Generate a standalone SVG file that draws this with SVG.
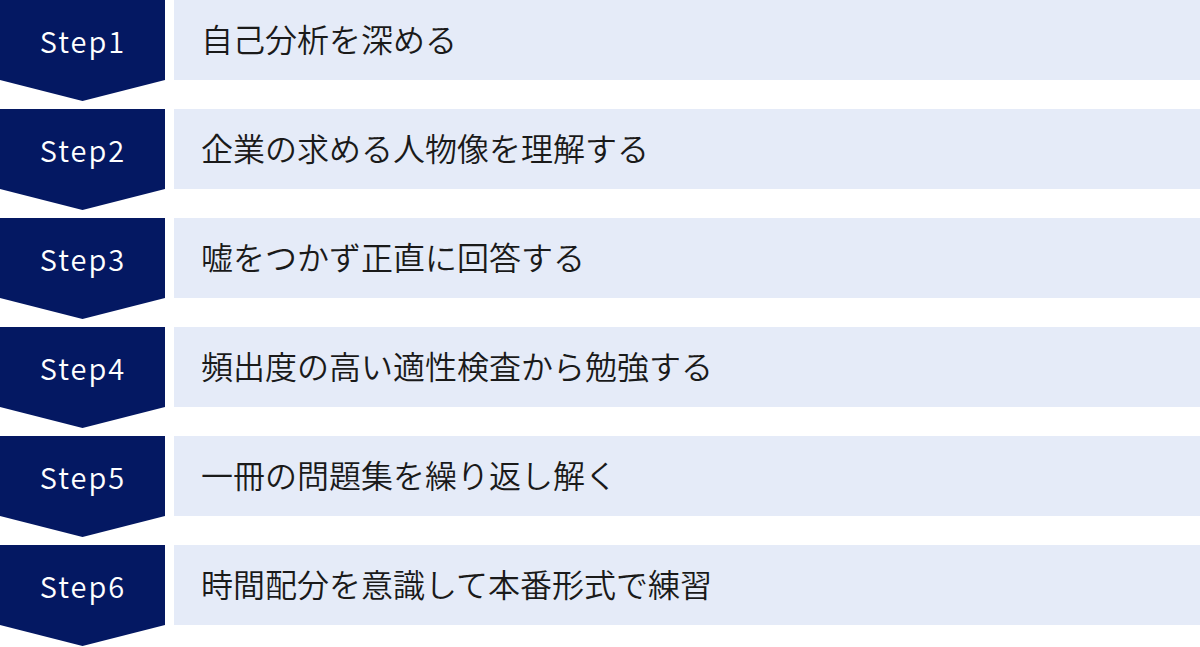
<svg xmlns="http://www.w3.org/2000/svg" width="1200" height="647" viewBox="0 0 1200 647">
<defs>
<style>
.step{fill:#041862}
.box{fill:#e5ebf8}
.lbl{font-family:"Noto Sans CJK JP","Noto Sans",sans-serif;font-size:29px;font-weight:350;fill:#ffffff;text-anchor:middle;letter-spacing:2px}
.txt{font-family:"Noto Sans CJK JP","Noto Sans",sans-serif;font-size:32px;font-weight:350;fill:#1a1a1a}
</style>
<polygon id="chev" class="step" points="0,0 165,0 165,80 82.5,101 0,80"/>
</defs>
<g id="step1" transform="translate(0,0)"><use href="#chev"/><rect class="box" x="174" y="0" width="1026" height="80"/><text class="lbl" x="83" y="53">Step1</text><text class="txt" x="201" y="52">自己分析を深める</text></g>
<g id="step2" transform="translate(0,109)"><use href="#chev"/><rect class="box" x="174" y="0" width="1026" height="80"/><text class="lbl" x="83" y="53">Step2</text><text class="txt" x="201" y="52">企業の求める人物像を理解する</text></g>
<g id="step3" transform="translate(0,218)"><use href="#chev"/><rect class="box" x="174" y="0" width="1026" height="80"/><text class="lbl" x="83" y="53">Step3</text><text class="txt" x="201" y="52">嘘をつかず正直に回答する</text></g>
<g id="step4" transform="translate(0,327)"><use href="#chev"/><rect class="box" x="174" y="0" width="1026" height="80"/><text class="lbl" x="83" y="53">Step4</text><text class="txt" x="201" y="52">頻出度の高い適性検査から勉強する</text></g>
<g id="step5" transform="translate(0,436)"><use href="#chev"/><rect class="box" x="174" y="0" width="1026" height="80"/><text class="lbl" x="83" y="53">Step5</text><text class="txt" x="201" y="52">一冊の問題集を繰り返し解く</text></g>
<g id="step6" transform="translate(0,545)"><use href="#chev"/><rect class="box" x="174" y="0" width="1026" height="80"/><text class="lbl" x="83" y="53">Step6</text><text class="txt" x="201" y="52">時間配分を意識して本番形式で練習</text></g>
<g id="connectors"/>
</svg>
